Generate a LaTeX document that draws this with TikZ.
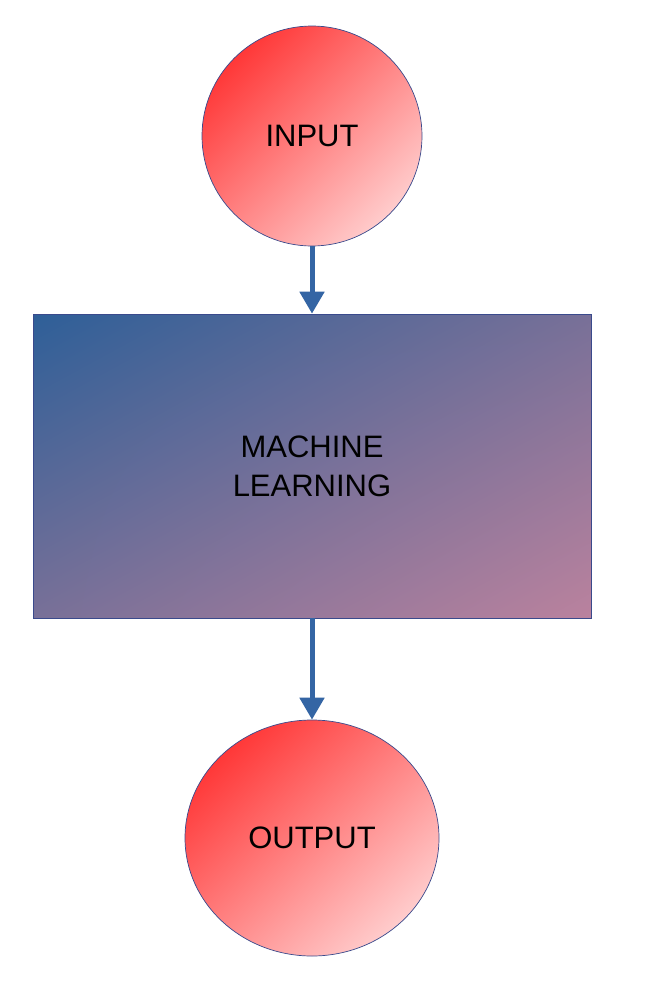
\documentclass[tikz,border=0pt]{standalone}
\usepackage{fontspec}
\setmainfont{Liberation Sans}
\usetikzlibrary{shapes.geometric,arrows.meta,shadings}
\definecolor{arrowblue}{HTML}{3465A4}
\definecolor{edge}{HTML}{3A4A8C}
\definecolor{rA}{RGB}{255,25,25}
\definecolor{rB}{RGB}{255,235,235}
\definecolor{rC}{RGB}{255,130,130}
\definecolor{bA}{RGB}{46,95,152}
\definecolor{bB}{RGB}{186,130,158}
\definecolor{bC}{RGB}{120,112,152}
\tikzset{
  redball/.style={ellipse,draw=edge,line width=0.7pt,upper left=rA,lower right=rB,upper right=rC,lower left=rC,inner sep=0pt},
  mlbox/.style={rectangle,draw=edge,line width=0.7pt,minimum width=558pt,minimum height=304pt,upper left=bA,lower right=bB,upper right=bC,lower left=bC,align=center},
  lbl/.style={font=\fontsize{31}{39}\selectfont},
  conn/.style={draw=arrowblue,line width=5pt,-{Triangle[length=22pt,width=24pt]}}
}
\begin{document}
\begin{tikzpicture}[x=1pt,y=-1pt]
\useasboundingbox[fill=white] (0,0) rectangle (647,991);
\node[redball,minimum width=220pt,minimum height=220pt,lbl] (in) at (312,136) {INPUT};
\node[mlbox,lbl] (ml) at (312,466) {MACHINE\\LEARNING};
\node[redball,minimum width=254pt,minimum height=236pt,lbl] (out) at (312,838) {OUTPUT};
\draw[conn] (in.south) -- (ml.north);
\draw[conn] (ml.south) -- (out.north);
\end{tikzpicture}
\end{document}
